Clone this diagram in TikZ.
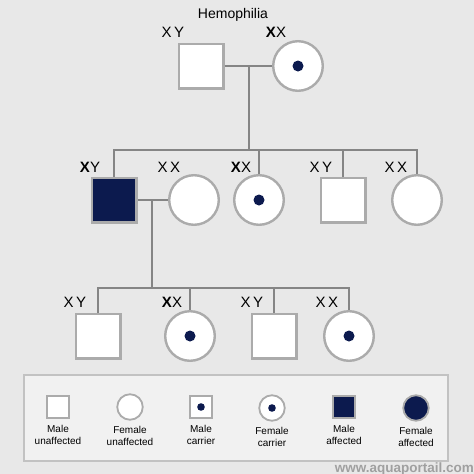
\documentclass[tikz,border=0pt]{standalone}
\usepackage{fontspec}
\setmainfont{Liberation Sans}
\usetikzlibrary{positioning}
\definecolor{bggray}{HTML}{E8E8E8}
\definecolor{symgray}{HTML}{ABABAB}
\definecolor{linegray}{HTML}{858585}
\definecolor{hemoblue}{HTML}{0C1A4E}
\definecolor{keygray}{HTML}{C2C2C2}
\definecolor{wmgray}{HTML}{A0A0A0}
\begin{document}
\begin{tikzpicture}%
	[x={(1pt,0pt)},
	y={(0pt,-1pt)},
	line/.style={color=linegray, line width=1.6pt},
	male/.style={draw=symgray, line width=2.4pt, fill=white, minimum size=44.6pt, inner sep=0pt},
	female/.style={circle, draw=symgray, line width=2.4pt, fill=white, minimum size=49.6pt, inner sep=0pt},
	affected/.style={fill=hemoblue},
	carrier/.style={path picture={\fill[hemoblue] (path picture bounding box.center) circle (#1);}},
	carrier/.default=5.5pt,
	keymale/.style={male, line width=1.8pt, minimum size=22.5pt},
	keyfemale/.style={female, line width=1.8pt, minimum size=25.5pt},
	keybox/.style={draw=keygray, line width=1.2pt, fill=bggray!60!white},
	geno/.style={font=\fontsize{15}{15}\selectfont, inner sep=0pt},
	keytext/.style={font=\fontsize{10}{12}\selectfont, align=center, inner sep=0pt},
	wm/.style={font=\bfseries\fontsize{13.5}{14}\selectfont, text=wmgray, inner sep=0pt}]
%
\fill[bggray] (0,0) rectangle (474,474);
\useasboundingbox (0,0) rectangle (474,474);
%%
%% Title
%%
\node[font=\fontsize{14}{14}\selectfont, anchor=base, inner sep=0pt] (title) at (233,18) {Hemophilia};
%%
%% Generation I
%%
\node[male] (m1) at (201,66) {};
\node[female, carrier] (f1) at (298,66) {};
\node[geno] (lm1) at (173,32) {X\,Y};
\node[geno] (lf1) at (276,32) {\textbf{X}X};
\coordinate (d1) at (249,66);
\coordinate (bar2) at (249,150);
%%
%% Generation II
%%
\node[male, affected] (c1) at (114,200) {};
\node[female] (sp) at (194,200) {};
\node[female, carrier] (c3) at (259,200) {};
\node[male] (c4) at (343,200) {};
\node[female] (c5) at (417,200) {};
\node[geno] (lc1) at (90,167) {\textbf{X}Y};
\node[geno] (lsp) at (169,167) {X\,X};
\node[geno] (lc3) at (241,167) {\textbf{X}X};
\node[geno] (lc4) at (321,167) {X\,Y};
\node[geno] (lc5) at (396,167) {X\,X};
\coordinate (d2) at (152,200);
\coordinate (bar3) at (152,288);
%%
%% Generation III
%%
\node[male] (g1) at (98,336) {};
\node[female, carrier] (g2) at (190,336) {};
\node[male] (g3) at (274,336) {};
\node[female, carrier] (g4) at (349,336) {};
\node[geno] (lg1) at (75,302) {X\,Y};
\node[geno] (lg2) at (172,302) {\textbf{X}X};
\node[geno] (lg3) at (252,302) {X\,Y};
\node[geno] (lg4) at (327,302) {X\,X};
%%
%% Lines
%%
\draw[line] (m1.east) -- (f1.west);
\draw[line] (d1) -- (bar2);
\draw[line] (c1.north) -- (c1.north |- bar2) -- (c5.north |- bar2) -- (c5.north);
\draw[line] (c3.north |- bar2) -- (c3.north);
\draw[line] (c4.north |- bar2) -- (c4.north);
\draw[line] (c1.east) -- (sp.west);
\draw[line] (d2) -- (bar3);
\draw[line] (g1.north) -- (g1.north |- bar3) -- (g4.north |- bar3) -- (g4.north);
\draw[line] (g2.north |- bar3) -- (g2.north);
\draw[line] (g3.north |- bar3) -- (g3.north);
%%
%% Key
%%
\draw[keybox] (24,375) rectangle (448,461);
\node[keymale] (k1) at (58,407) {};
\node[keyfemale] (k2) at (130,407) {};
\node[keymale, carrier=3.8pt] (k3) at (201,407) {};
\node[keyfemale, carrier=3.8pt] (k4) at (272,408) {};
\node[keymale, affected] (k5) at (344,407) {};
\node[keyfemale, affected] (k6) at (416,408) {};
\node[keytext, below=6pt of k1] (t1) {Male\\unaffected};
\node[keytext, below=5pt of k2] (t2) {Female\\unaffected};
\node[keytext, below=6pt of k3] (t3) {Male\\carrier};
\node[keytext, below=5pt of k4] (t4) {Female\\carrier};
\node[keytext, below=6pt of k5] (t5) {Male\\affected};
\node[keytext, below=5pt of k6] (t6) {Female\\affected};
%%
\node[wm, anchor=base east] (wm) at (474,472) {www.aquaportail.com};
\end{tikzpicture}
\end{document}
